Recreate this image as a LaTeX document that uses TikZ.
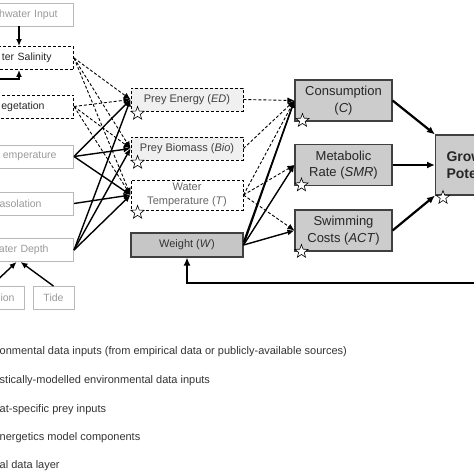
\documentclass[tikz,border=0pt]{standalone}
\usepackage{fontspec}
\setmainfont{Liberation Sans}
\usetikzlibrary{arrows.meta,shapes.geometric}

\tikzset{
  envbox/.style={draw=gray!55, text=gray!80, line width=0.9pt, minimum height=23pt,
    text width=100pt, align=right, anchor=east, font=\fontsize{10.5}{12}\selectfont},
  modbox/.style={envbox, draw=black, text=black!85, dash pattern=on 3pt off 2pt},
  preybox/.style={draw=black, dash pattern=on 3pt off 2pt, fill=gray!12, text=black!75,
    line width=0.9pt, minimum width=112pt, minimum height=23pt, inner sep=1pt,
    align=center, font=\fontsize{11}{14}\selectfont},
  bioebox/.style={draw=black!75, fill=gray!40, line width=1.1pt, minimum width=97pt,
    minimum height=41pt, inner sep=1pt, align=center, text=black!85,
    font=\fontsize{13}{16.5}\selectfont},
  starmark/.style={star, star points=5, star point ratio=2.4, draw, fill=white,
    line width=0.6pt, minimum size=14pt, inner sep=0pt},
  fan/.style={-{Latex[length=7pt,width=6pt]}, line width=1.4pt},
  dfan/.style={-{Latex[length=7pt,width=6pt]}, dash pattern=on 3pt off 2pt, line width=0.9pt},
  bigarrow/.style={-{Latex[length=8pt,width=7pt]}, line width=2.2pt},
  feedback/.style={-{Latex[length=8pt,width=7pt]}, line width=2.6pt},
}

\begin{document}
\begin{tikzpicture}[x=1pt,y=-1pt]
    \useasboundingbox (0,0) rectangle (474,474);
    \clip (0,0) rectangle (474,474);

    % Environmental inputs
    \node[envbox, inner xsep=16pt] (fresh) at (74,14.5) {hwater Input};
    \node[modbox, inner xsep=22pt] (sal) at (74,58) {ter Salinity};
    \node[modbox, inner xsep=29pt] (veg) at (74,106.5) {egetation};
    \node[envbox, inner xsep=17pt] (temp) at (74,156.5) {emperature};
    \node[envbox, inner xsep=32pt] (insol) at (74,203.5) {asolation};
    \node[envbox, inner xsep=25pt] (depth) at (74,250) {ater Depth};
    \node[envbox, inner xsep=10pt] (ion) at (25,298) {ion};
    \node[envbox, text width=, align=center, anchor=center, minimum width=41pt] (tide) at (53.5,298) {Tide};

    \coordinate (drop) at (19,0);
    \coordinate (offin) at (-10,79);
    \draw[fan] (fresh.south -| drop) -- (sal.north -| drop);
    \draw[fan] (offin) -| (sal.south -| drop);
    \draw[fan] ([xshift=-34pt]ion.north east) -- ([xshift=18pt]depth.south);
    \draw[fan] (tide.north) -- ([xshift=22pt]depth.south);

    % Prey and temperature layer
    \node[preybox] (ed) at (187,99.5) {Prey Energy (\textit{ED})};
    \node[preybox] (bio) at (187,148.5) {Prey Biomass (\textit{Bio})};
    \node[preybox, fill=white, text=black!60, minimum height=30pt] (wt) at (187,195) {Water\\Temperature (\textit{T})};
    \node[preybox, solid, draw=black!75, fill=gray!45, text=black!80, line width=1.1pt, minimum height=24pt] (weight) at (187,245) {Weight (\textit{W})};

    \foreach \src in {sal,veg}
      \foreach \dst in {ed,bio,wt}
        \draw[dfan] (\src.east) -- (\dst.west);
    \foreach \dst in {ed,bio,wt}
      \draw[fan] (temp.east) -- (\dst.west);
    \draw[fan] (insol.east) -- (wt.west);
    \foreach \dst in {ed,bio,wt}
      \draw[fan] (depth.east) -- (\dst.west);

    % Bioenergetics components
    \node[bioebox] (cons) at (343.5,100.5) {Consumption\\(\textit{C})};
    \node[bioebox] (smr) at (343.5,165) {Metabolic\\Rate (\textit{SMR})};
    \node[bioebox] (act) at (343.5,230.5) {Swimming\\Costs (\textit{ACT})};
    \node[bioebox, anchor=west, minimum height=60pt, text width=90pt, inner xsep=11pt,
          align=left, font=\fontsize{14}{17}\selectfont\bfseries] (grow) at (435,165) {Grow\\Pote};

    \draw[dfan] (ed.east) -- (cons.west);
    \draw[dfan] (bio.east) -- (cons.west);
    \foreach \dst in {cons,smr,act}
      \draw[dfan] (wt.east) -- (\dst.west);
    \draw[fan] ([yshift=3pt]weight.east) -- (cons.west);
    \foreach \dst in {cons,smr,act}
      \draw[fan] (weight.east) -- (\dst.west);

    \draw[bigarrow] (cons.east) -- (grow.north west);
    \draw[bigarrow] (smr.east) -- (grow.west);
    \draw[bigarrow] (act.east) -- (grow.south west);

    % Feedback to weight
    \coordinate (back) at (0,283);
    \draw[feedback] (grow.south) |- (weight.south |- back) -- (weight.south);

    % Stars
    \node[starmark] (sed) at ([xshift=7pt,yshift=-2pt]ed.south west) {};
    \node[starmark] (sbio) at ([xshift=7pt,yshift=-2pt]bio.south west) {};
    \node[starmark] (swt) at ([xshift=7pt,yshift=-2pt]wt.south west) {};
    \node[starmark] (scons) at ([xshift=8pt,yshift=1pt]cons.south west) {};
    \node[starmark] (ssmr) at ([xshift=7pt,yshift=1pt]smr.south west) {};
    \node[starmark] (sact) at ([xshift=7pt]act.south west) {};
    \node[starmark] (sgrow) at ([xshift=8pt,yshift=-2pt]grow.south west) {};

    % Legend
    \begin{scope}[every node/.style={anchor=west, inner sep=0pt, text=black!80, font=\fontsize{11}{13}\selectfont}]
      \node (leg1) at (-0.5,352) {onmental data inputs (from empirical data or publicly-available sources)};
      \node (leg2) at (-0.5,381) {stically-modelled environmental data inputs};
      \node (leg3) at (-0.5,409.5) {at-specific prey inputs};
      \node (leg4) at (-0.5,438) {nergetics model components};
      \node (leg5) at (-0.5,466) {al data layer};
    \end{scope}
\end{tikzpicture}
\end{document}
